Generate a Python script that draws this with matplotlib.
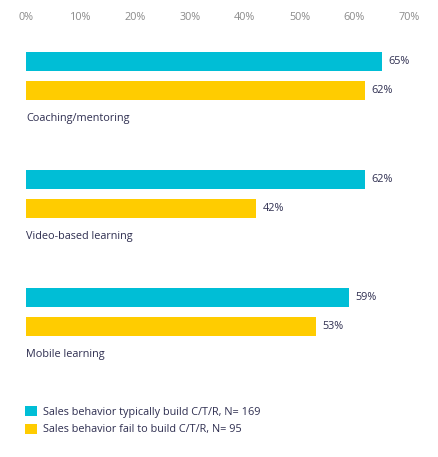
import matplotlib.pyplot as plt
from matplotlib.patches import Patch

categories = ['Coaching/mentoring', 'Video-based learning', 'Mobile learning']
typically_build = [65, 62, 59]
fail_to_build = [62, 42, 53]
series_names = ['Sales behavior typically build C/T/R, N= 169',
                'Sales behavior fail to build C/T/R, N= 95']
ticks = [0, 10, 20, 30, 40, 50, 60, 70]

cyan = '#00BED6'
yellow = '#FFCC00'
text_color = '#2E2E50'
tick_color = '#8A8A8A'

plt.rcParams['font.family'] = ['Open Sans', 'DejaVu Sans']

fig = plt.figure(figsize=(4.38, 4.57), dpi=100)
# axes spans from px 35 (top) down to bottom; y units are pixels below axes top
ax = fig.add_axes([26 / 438, 0, 383 / 438, 422 / 457])
ax.set_xlim(0, 70)
ax.set_ylim(422, 0)

fs = 7.8
group_step = 118
bar_h = 19
for i, cat in enumerate(categories):
    y0 = 26.5 + i * group_step
    y1 = y0 + 29
    ax.barh(y0, typically_build[i], height=bar_h, color=cyan, edgecolor='none')
    ax.barh(y1, fail_to_build[i], height=bar_h, color=yellow, edgecolor='none')
    ax.text(typically_build[i] + 1.2, y0, f'{typically_build[i]}%', va='center',
            ha='left', fontsize=fs, color=text_color)
    ax.text(fail_to_build[i] + 1.2, y1, f'{fail_to_build[i]}%', va='center',
            ha='left', fontsize=fs, color=text_color)
    ax.text(0, y1 + 28.5, cat, va='center', ha='left', fontsize=fs, color=text_color)

ax.xaxis.tick_top()
ax.set_xticks(ticks)
ax.set_xticklabels([f'{t}%' for t in ticks])
ax.tick_params(axis='x', length=0, pad=9, labelsize=fs, labelcolor=tick_color)
ax.set_yticks([])
for s in ax.spines.values():
    s.set_visible(False)

handles = [Patch(facecolor=cyan, edgecolor='none'), Patch(facecolor=yellow, edgecolor='none')]
fig.legend(handles, series_names, loc='upper left', bbox_to_anchor=(15 / 438, 1 - 396 / 457),
           frameon=False, fontsize=fs, labelcolor=text_color, handlelength=1.1,
           handleheight=1.1, handletextpad=0.6, labelspacing=0.55)

fig.savefig('out.png', dpi=100, facecolor='white')
